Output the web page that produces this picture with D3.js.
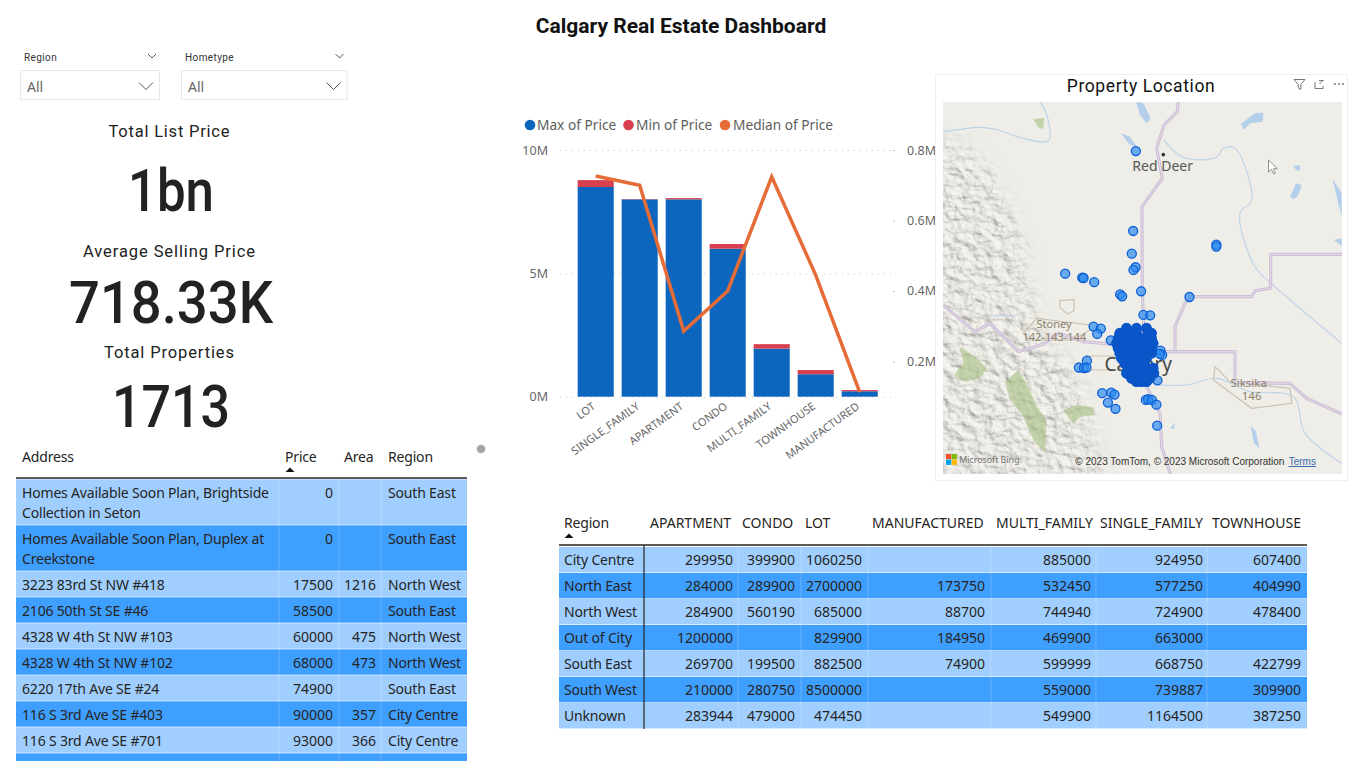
<![CDATA[<!DOCTYPE html>
<html><head><meta charset="utf-8">
<script src="https://cdn.jsdelivr.net/npm/d3@7/dist/d3.min.js"></script>
<style>html,body{margin:0;background:#fff;overflow:hidden}svg{display:block}
.seg{font-family:"Noto Sans",sans-serif}.din{font-family:Roboto,sans-serif}</style>
</head><body><svg id="c" width="1358" height="768"></svg>
<script>
// ---- combo chart data
const homeTypes=["LOT","SINGLE_FAMILY","APARTMENT","CONDO","MULTI_FAMILY","TOWNHOUSE","MANUFACTURED"];
const maxPrice=[8500000,8000000,8000000,6000000,1950000,910000,220000];
const minPrice=[280000,10000,50000,190000,180000,170000,50000];
const medianPrice=[726000,700000,286500,400000,724000,445000,113000];
const leftTicks=[0,5e6,10e6], rightTicks=[2e5,4e5,6e5,8e5];
// ---- KPI
const kpiLabels=["Total List Price","Average Selling Price","Total Properties"];
const kpiValues=["1bn","718.33K","1713"];
// ---- listing table
const listHeaders=["Address","Price","Area","Region"];
const listAddress=[["Homes Available Soon Plan, Brightside","Collection in Seton"],["Homes Available Soon Plan, Duplex at","Creekstone"],["3223 83rd St NW #418"],["2106 50th St SE #46"],["4328 W 4th St NW #103"],["4328 W 4th St NW #102"],["6220 17th Ave SE #24"],["116 S 3rd Ave SE #403"],["116 S 3rd Ave SE #701"],[""]];
const listPrice=[0,0,17500,58500,60000,68000,74900,90000,93000,""];
const listArea=["","",1216,"",475,473,"",357,366,""];
const listRegion=["South East","South East","North West","South East","North West","North West","South East","City Centre","City Centre",""];
// ---- matrix table
const matrixCols=["APARTMENT","CONDO","LOT","MANUFACTURED","MULTI_FAMILY","SINGLE_FAMILY","TOWNHOUSE"];
const matrixRegions=["City Centre","North East","North West","Out of City","South East","South West","Unknown"];
const matrixApartment=[299950,284000,284900,1200000,269700,210000,283944];
const matrixCondo=[399900,289900,560190,"",199500,280750,479000];
const matrixLot=[1060250,2700000,685000,829900,882500,8500000,474450];
const matrixManufactured=["",173750,88700,184950,74900,"",""];
const matrixMulti=[885000,532450,744940,469900,599999,559000,549900];
const matrixSingle=[924950,577250,724900,663000,668750,739887,1164500];
const matrixTown=[607400,404990,478400,"",422799,309900,387250];
// ---- map points (lon / lat, read from the map)
const outlierLon=[-114.074,-114.100,-114.113,-114.077,-114.097,-114.754,-114.590,-114.577,-114.475,-114.225,-114.206,-114.023,-113.299,-113.299,-113.558,-114.001,-113.936,-114.481,-114.411,-114.446,-114.315,-114.545,-114.622,-114.574,-114.549,-114.398,-114.311,-114.279,-114.343,-114.270,-113.978,-113.956,-113.920,-113.876,-113.869,-113.866,-113.837,-113.821,-113.843];
const outlierLat=[52.292,51.816,51.681,51.600,51.584,51.562,51.538,51.536,51.511,51.439,51.427,51.457,51.735,51.723,51.423,51.316,51.314,51.247,51.235,51.203,51.165,51.044,51.003,51.000,51.003,50.850,50.854,50.842,50.794,50.757,50.810,50.814,50.810,50.782,50.657,50.927,51.104,51.078,51.084];
const cityLat=[51.237,51.207,51.177,51.147,51.118,51.088,51.058,51.028,50.999,50.969,50.939,50.919];
const cityLon=[[-114.164,-114.068,-113.972],[-114.228,-114.148,-114.068,-113.956,-113.924],[-114.244,-114.180,-114.116,-114.052,-113.988,-113.924],[-114.260,-114.196,-114.132,-114.068,-114.004,-113.940,-113.908],[-114.244,-114.196,-114.148,-114.100,-114.052,-114.004,-113.956,-113.924],[-114.228,-114.164,-114.100,-114.036,-113.972,-113.924],[-114.212,-114.148,-114.084,-114.020,-113.972],[-114.180,-114.116,-114.052,-113.988],[-114.148,-114.100,-114.036,-113.972,-113.908],[-114.164,-114.116,-114.068,-114.004,-113.940,-113.901],[-114.116,-114.068,-114.004,-113.940],[-114.068,-114.020,-113.972]];

const svg=d3.select("#c");
const txt="#252423", axisC="#666666";
const blue="#0D66BD", red="#D9404F", orange="#E66C37", rowA="#A0CFFF", rowB="#3F9FFF";

// title
svg.append("text").attr("class","din").attr("x",681).attr("y",33).attr("text-anchor","middle").attr("font-size",21).attr("font-weight",700).attr("fill","#111").text("Calgary Real Estate Dashboard");

// slicers
function chevron(g,cx,cy,w,h){g.append("path").attr("d",d3.line()([[cx-w/2,cy-h/2],[cx,cy+h/2],[cx+w/2,cy-h/2]])).attr("fill","none").attr("stroke","#555").attr("stroke-width",1);}
[{t:"Region",x:20.5,w:139,lx:24},{t:"Hometype",x:181.5,w:165.5,lx:185}].forEach(s=>{
 const g=svg.append("g");
 g.append("text").attr("class","din").attr("x",s.lx).attr("y",61).attr("font-size",10).attr("fill","#333").attr("letter-spacing",.4).text(s.t);
 chevron(g,s.x+s.w-7.5,56,8,4);
 g.append("rect").attr("x",s.x).attr("y",70.5).attr("width",s.w).attr("height",29).attr("fill","#fff").attr("stroke","#E8E8E8");
 g.append("text").attr("class","seg").attr("x",s.x+6.5).attr("y",92).attr("font-size",14).attr("fill","#666").text("All");
 chevron(g,s.x+s.w-13.5,86,14,7);
});

// KPI cards
const kpiLabelY=[137,257,358], kpiValueY=[211,323,427];
const kpiLabelW=[121,172,130], kpiValueW=[86,204,118];
kpiLabels.forEach((l,i)=>{
 svg.append("text").attr("class","din").attr("x",169).attr("y",kpiLabelY[i]).attr("text-anchor","middle").attr("font-size",16.5).attr("textLength",kpiLabelW[i]).attr("fill","#222").text(l);
 svg.append("text").attr("class","din").attr("x",171).attr("y",kpiValueY[i]).attr("text-anchor","middle").attr("font-size",59).attr("font-weight",500).attr("textLength",kpiValueW[i]).attr("lengthAdjust","spacingAndGlyphs").attr("fill","#222").text(kpiValues[i]);
});

// combo chart
const x=d3.scaleBand().domain(homeTypes).range([573.7,881.7]).paddingInner(.18).paddingOuter(.09);
const yL=d3.scaleLinear().domain([0,10e6]).range([396.7,150]);
const yR=d3.scaleLinear().domain([1e5,8e5]).range([396.7,150]);
const fmtM=v=>(v/1e6)+"M";
const gL=svg.append("g").attr("transform","translate(560,0)").call(d3.axisLeft(yL).tickValues(leftTicks).tickFormat(fmtM).tickSize(-333).tickPadding(12));
gL.select(".domain").remove();
gL.selectAll("line").attr("stroke","#C8C8C8").attr("stroke-dasharray","1 5");
gL.selectAll("text").attr("class","seg").attr("font-size",12.5).attr("fill",axisC);
const gR=svg.append("g").attr("transform","translate(893,0)").call(d3.axisRight(yR).tickValues(rightTicks).tickFormat(fmtM).tickSize(2).tickPadding(12));
gR.select(".domain").remove();
gR.selectAll("line").attr("stroke","#C8C8C8");
gR.selectAll("text").attr("class","seg").attr("font-size",12.5).attr("fill",axisC);
const gX=svg.append("g").attr("transform","translate(0,396.7)").call(d3.axisBottom(x).tickSize(0).tickPadding(0));
gX.select(".domain").remove();
gX.selectAll("text").attr("class","seg").attr("font-size",11).attr("fill",axisC).attr("text-anchor","end").attr("transform","translate(-4,5) rotate(-36)").attr("dy",".7em");
svg.append("g").selectAll("rect").data(homeTypes).join("rect").attr("x",d=>x(d)).attr("width",x.bandwidth())
 .attr("y",(d,i)=>yL(maxPrice[i])).attr("height",(d,i)=>yL(0)-yL(maxPrice[i])).attr("fill",blue);
svg.append("g").selectAll("rect").data(homeTypes).join("rect").attr("x",d=>x(d)).attr("width",x.bandwidth())
 .attr("y",(d,i)=>yL(maxPrice[i]+minPrice[i])).attr("height",(d,i)=>yL(0)-yL(minPrice[i])).attr("fill",red);
svg.append("path").attr("d",d3.line().x((d,i)=>x(homeTypes[i])+x.bandwidth()/2).y(d=>yR(d))(medianPrice)).attr("fill","none").attr("stroke",orange).attr("stroke-width",3.5);
[["Max of Price",blue,530,537],["Min of Price",red,628.5,636],["Median of Price",orange,725,733]].forEach(l=>{
 svg.append("circle").attr("cx",l[2]).attr("cy",125).attr("r",5.3).attr("fill",l[1]);
 svg.append("text").attr("class","seg").attr("x",l[3]).attr("y",130).attr("font-size",13.7).attr("fill","#605E5C").text(l[0]);
});

// ---- map panel
svg.append("rect").attr("x",935.5).attr("y",74.5).attr("width",412).attr("height",406).attr("fill","#fff").attr("stroke","#F0F0F0");
svg.append("text").attr("class","din").attr("x",1141).attr("y",92).attr("text-anchor","middle").attr("font-size",17.5).attr("letter-spacing",.6).attr("fill","#111").text("Property Location");
svg.append("path").attr("d","M1294 79.5h11l-4.2 5v5l-2.6-1.6v-3.4z").attr("fill","none").attr("stroke","#777");
svg.append("path").attr("d","M1315 82v6.5h8V86M1319 80.5h4.5v0M1319.5 84l4-4").attr("fill","none").attr("stroke","#777");
svg.selectAll("circle.dot").data([0,1,2]).join("circle").attr("class","dot").attr("cx",d=>1335+d*4).attr("cy",84).attr("r",.9).attr("fill","#666");

const defs=svg.append("defs");
defs.append("clipPath").attr("id","mapClip").append("rect").attr("x",943).attr("y",102).attr("width",399).attr("height",372);
const relief=defs.append("filter").attr("id","relief").attr("x","-10%").attr("y","-10%").attr("width","120%").attr("height","120%");
relief.append("feTurbulence").attr("type","fractalNoise").attr("baseFrequency",".09 .11").attr("numOctaves",4).attr("seed",11).attr("result","n");
const lit=relief.append("feDiffuseLighting").attr("in","n").attr("surfaceScale",3).attr("lighting-color","#F6F4EE").attr("result","l");
lit.append("feDistantLight").attr("azimuth",315).attr("elevation",62);
relief.append("feGaussianBlur").attr("in","SourceAlpha").attr("stdDeviation",10).attr("result","edge");
relief.append("feComposite").attr("in","l").attr("in2","edge").attr("operator","in");
// basemap geometry is in a 1284x1230 grid over the panel
const gx=d3.scaleLinear().domain([0,1284]).range([930,1358]), gy=d3.scaleLinear().domain([0,1230]).range([70,480]);
const gline=d3.line().x(d=>gx(d[0])).y(d=>gy(d[1]));
const gcurve=d3.line().x(d=>gx(d[0])).y(d=>gy(d[1])).curve(d3.curveCatmullRom);
const basemap=svg.append("g").attr("clip-path","url(#mapClip)");
basemap.append("rect").attr("x",943).attr("y",102).attr("width",399).attr("height",372).attr("fill","#EEEDE8");
const mountains=[[-40,175],[110,225],[170,290],[235,400],[285,540],[290,640],[330,760],[380,850],[440,910],[470,1000],[500,1110],[520,1280],[-40,1280]];
basemap.append("path").attr("d",gline(mountains)+"Z").attr("fill","#000").attr("filter","url(#relief)");
const greens=[[[310,148],[342,143],[340,178],[325,172]],[[90,830],[135,860],[170,895],[150,925],[105,935],[72,915],[100,880]],[[225,935],[265,900],[300,960],[320,1010],[350,1050],[345,1150],[310,1110],[280,1040],[240,990]],[[400,1020],[440,1005],[490,1012],[495,1035],[450,1040],[430,1062]]];
greens.forEach(p=>basemap.append("path").attr("d",gline(p)+"Z").attr("fill","#A9C288").attr("opacity",.62));
const lakes=[[[618,95],[640,100],[662,145],[650,160],[630,135]],[[572,190],[600,200],[622,232],[600,225]],[[932,162],[975,130],[1000,128],[998,155],[960,160],[942,180]],[[1090,288],[1110,285],[1110,303],[1098,300]],[[1080,382],[1098,340],[1115,345],[1105,375],[1092,388]],[[1208,328],[1235,370],[1235,440],[1225,400]],[[1212,510],[1235,505],[1235,528]],[[962,1068],[978,1085],[988,1135],[972,1120]],[[720,1075],[735,1060],[732,1078]]];
lakes.forEach(p=>basemap.append("path").attr("d",gline(p)+"Z").attr("fill","#B3CFEA"));
const rivers=[[[38,185],[90,178],[150,172],[205,180],[280,205],[355,212],[352,140],[330,95]],[[700,208],[760,262],[860,262],[880,235],[915,235],[965,390],[930,430],[975,590],[1035,650],[1235,820]],[[690,945],[770,945],[860,925],[960,965],[1090,980],[1125,1090],[1235,1180]],[[190,740],[230,735],[255,745]]];
rivers.forEach(p=>basemap.append("path").attr("d",gcurve(p)).attr("fill","none").attr("stroke","#BBD2E8").attr("stroke-width",1.1));
const reserves=[[[390,692],[432,688],[432,722],[412,732],[390,712]],[[320,745],[480,765],[480,780],[430,810],[300,810],[280,790]],[[470,858],[570,858],[570,900],[470,900]],[[855,890],[900,935],[1080,955],[1085,1000],[965,1015],[850,930]]];
reserves.forEach(p=>basemap.append("path").attr("d",gline(p)+"Z").attr("fill","none").attr("stroke","#C9C3B4").attr("stroke-width",1.2));
const roads=[[[745,95],[742,125],[702,165],[680,235],[697,325],[636,410],[637,660],[642,800]],[[650,950],[690,1030],[695,1130],[722,1215]],[[38,705],[135,785],[180,760],[265,845],[340,822],[385,790],[460,815],[570,825]],[[690,845],[915,845],[915,938],[1080,940],[1130,985],[1236,1032]],[[735,845],[735,770],[765,700],[780,680],[965,680],[975,662],[1022,655],[1022,553],[1236,553]]];
roads.forEach(p=>{
 basemap.append("path").attr("d",gline(p)).attr("fill","none").attr("stroke","#CDBDD6").attr("stroke-width",3.1).attr("stroke-linejoin","round");
 basemap.append("path").attr("d",gline(p)).attr("fill","none").attr("stroke","#E6DDE8").attr("stroke-width",1);
});
svg.append("circle").attr("cx",gx(700)).attr("cy",gy(254)).attr("r",1.8).attr("fill","#333");
[["Red Deer",698,303,14,"#555"],["Stoney",372,775,11,"#8B806C"],["142-143-144",373,813,11,"#8B806C"],["Calgary",625,902,19,"#444"],["Siksika",956,951,11.5,"#8B806C"],["146",965,990,11.5,"#8B806C"]].forEach(l=>
 basemap.append("text").attr("class","seg").attr("x",gx(l[1])).attr("y",gy(l[2])).attr("text-anchor","middle").attr("font-size",l[3]).attr("fill",l[4]).text(l[0]));
[["#F25022",48,1152],["#7FBA00",65,1152],["#00A4EF",48,1169],["#FFB900",65,1169]].forEach(s=>basemap.append("rect").attr("x",gx(s[1])).attr("y",gy(s[2])).attr("width",5.2).attr("height",5.2).attr("fill",s[0]));
basemap.append("text").attr("class","seg").attr("x",gx(88)).attr("y",gy(1178)).attr("font-size",8.8).attr("fill","#777").text("Microsoft Bing");
basemap.append("text").attr("font-family","Liberation Sans").attr("x",gx(436)).attr("y",gy(1185)).attr("font-size",10).attr("fill","#333").text("© 2023 TomTom, © 2023 Microsoft Corporation");
basemap.append("text").attr("font-family","Liberation Sans").attr("x",gx(1076)).attr("y",gy(1185)).attr("font-size",10).attr("fill","#3A6BB0").attr("text-decoration","underline").text("Terms");
svg.append("path").attr("d","M1268.5 160v12l3-2.6 2.2 4.6 1.8-.9-2.2-4.4h4z").attr("fill","#fff").attr("stroke","#777").attr("stroke-width",.8);
// points through a lon/lat projection
const lonS=d3.scaleLinear().domain([-115.93,-112.09]).range([943,1342]);
const latS=d3.scaleLinear().domain([52.584,50.369]).range([102,474]);
const cityPts=cityLat.flatMap((la,i)=>cityLon[i].map(lo=>[lo,la]));
const outPts=outlierLon.map((lo,i)=>[lo,outlierLat[i]]);
basemap.append("g").selectAll("circle").data(outPts.concat(cityPts)).join("circle")
 .attr("cx",d=>lonS(d[0])).attr("cy",d=>latS(d[1])).attr("r",4.5).attr("fill","#2A8BF0").attr("fill-opacity",.68).attr("stroke","#0B5FD6").attr("stroke-width",1.3);
basemap.append("g").selectAll("circle").data(cityPts).join("circle")
 .attr("cx",d=>lonS(d[0])).attr("cy",d=>latS(d[1])).attr("r",5.4).attr("fill","#0A56C8");

// ---- table helpers
function cellText(g,t,x0,y,anchor){ if(t==="")return; g.append("text").attr("class","seg").attr("x",x0).attr("y",y).attr("text-anchor",anchor||"start").attr("font-size",14).attr("letter-spacing",typeof t==="string"&&/[a-z]/.test(t)?-.18:0).attr("fill",txt).text(t);}
function sortArrow(cx,cy){svg.append("path").attr("d",d3.line()([[cx-4.5,cy+2],[cx,cy-2.5],[cx+4.5,cy+2]])+"Z").attr("fill","#111");}

// listing table
const T1=svg.append("g");
const t1Head=[22,285,344,388];
listHeaders.forEach((h,i)=>cellText(T1,h,t1Head[i],462));
sortArrow(290,470);
T1.append("line").attr("x1",16).attr("x2",467).attr("y1",478).attr("y2",478).attr("stroke","#252423").attr("stroke-width",1.4);
svg.append("circle").attr("cx",481).attr("cy",449).attr("r",4.3).attr("fill","#A6A6A6");
defs.append("clipPath").attr("id","t1Clip").append("rect").attr("x",0).attr("y",470).attr("width",500).attr("height",291);
const t1Body=T1.append("g").attr("clip-path","url(#t1Clip)");
let rowY=479.3;
listAddress.forEach((lines,i)=>{
 const h=lines.length===2?46:26;
 t1Body.append("rect").attr("x",16).attr("y",rowY).attr("width",451).attr("height",h-.6).attr("fill",i%2?rowB:rowA);
 [279,339,381].forEach(sx=>t1Body.append("line").attr("x1",sx).attr("x2",sx).attr("y1",rowY).attr("y2",rowY+h-.6).attr("stroke","#fff").attr("stroke-opacity",.22));
 lines.forEach((l,j)=>cellText(t1Body,l,22,rowY+18.5+j*20));
 cellText(t1Body,listPrice[i],333,rowY+18.5,"end");
 cellText(t1Body,listArea[i],376,rowY+18.5,"end");
 cellText(t1Body,listRegion[i],388,rowY+18.5);
 rowY+=h;
});

// matrix table
const T2=svg.append("g");
const mHead=[564,650,742,805,872,996,1100,1212];
["Region"].concat(matrixCols).forEach((h,i)=>cellText(T2,h,mHead[i],528));
sortArrow(569,536);
T2.append("line").attr("x1",559).attr("x2",1307).attr("y1",545).attr("y2",545).attr("stroke","#252423").attr("stroke-width",1.4);
const mCols=[matrixApartment,matrixCondo,matrixLot,matrixManufactured,matrixMulti,matrixSingle,matrixTown];
const mRight=[733,795,862,985,1091,1203,1301], mSep=[738,801,868,991,1096,1207];
const rowS=d3.scaleBand().domain(matrixRegions).range([547,729]);
matrixRegions.forEach((r,i)=>{
 const y0=rowS(r);
 T2.append("rect").attr("x",559).attr("y",y0).attr("width",748).attr("height",rowS.bandwidth()-.6).attr("fill",i%2?rowB:rowA);
 mSep.forEach(sx=>T2.append("line").attr("x1",sx).attr("x2",sx).attr("y1",y0).attr("y2",y0+25.4).attr("stroke","#fff").attr("stroke-opacity",.22));
 cellText(T2,r,564,y0+17.7);
 mCols.forEach((c,k)=>cellText(T2,c[i],mRight[k],y0+17.7,"end"));
});
T2.append("line").attr("x1",644).attr("x2",644).attr("y1",545).attr("y2",729).attr("stroke","#252423").attr("stroke-width",1.2);
</script></body></html>]]>
